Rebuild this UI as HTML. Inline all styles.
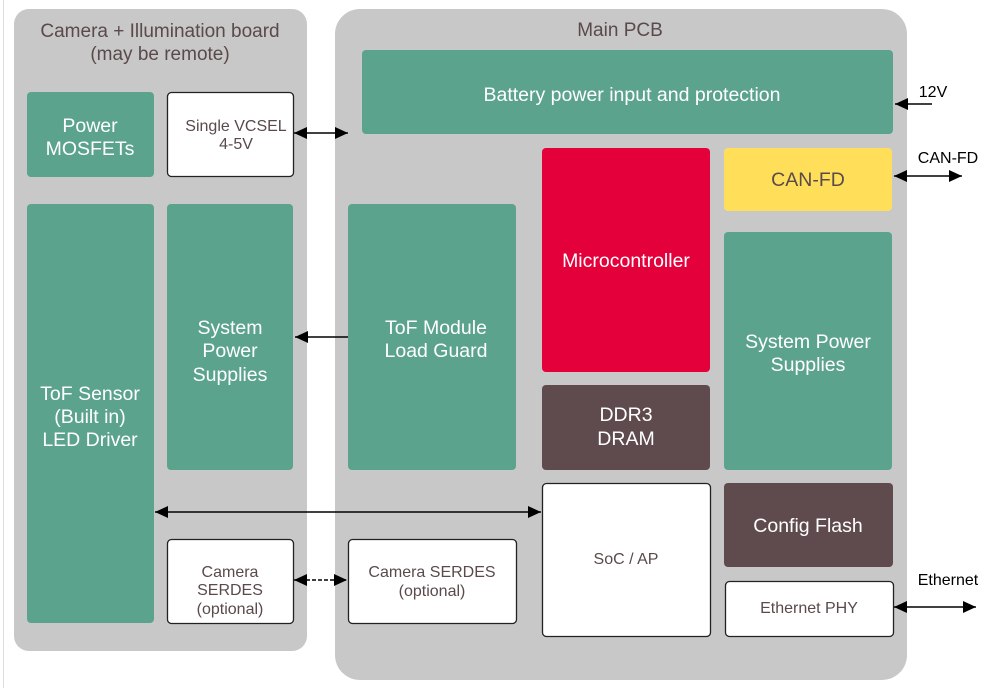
<!DOCTYPE html>
<html><head><style>body{margin:0;background:#fff}svg{display:block}text{font-family:"Liberation Sans",sans-serif}</style></head><body>
<svg width="1000" height="688" viewBox="0 0 1000 688">
<defs><marker id="a" markerWidth="14" markerHeight="14" refX="13" refY="6" orient="auto-start-reverse" markerUnits="userSpaceOnUse"><path d="M0,0L13,6L0,12z" fill="#000"/></marker></defs>
<line x1="3.5" y1="0" x2="3.5" y2="688" stroke="#ddd"/>
<rect x="14" y="9" width="293" height="642" rx="15" fill="#c8c8c8"/>
<rect x="335" y="9" width="572" height="671" rx="25" fill="#c8c8c8"/>
<g font-size="19" fill="#5a4a4a" text-anchor="middle">
<text x="160" y="37">Camera + Illumination board</text>
<text x="160" y="60">(may be remote)</text>
<text x="620" y="36">Main PCB</text></g>
<g fill="#5ca38e">
<rect x="362" y="50" width="531" height="84" rx="4"/>
<rect x="27" y="92" width="127" height="85" rx="4"/>
<rect x="27" y="204" width="127" height="419" rx="4"/>
<rect x="167" y="204" width="126" height="266" rx="4"/>
<rect x="348" y="204" width="168" height="266" rx="4"/>
<rect x="724" y="232" width="168" height="238" rx="4"/></g>
<rect x="542" y="148" width="168" height="224" rx="4" fill="#e4003a"/>
<rect x="542" y="385" width="168" height="85" rx="4" fill="#5f4b4e"/>
<rect x="724" y="483" width="169" height="84" rx="4" fill="#5f4b4e"/>
<rect x="724" y="148" width="168" height="63" rx="4" fill="#ffdf5a"/>
<g fill="#fff" stroke="#222" stroke-width="1.3">
<rect x="167.5" y="92.5" width="126" height="84" rx="4"/>
<rect x="542.5" y="483.5" width="168" height="153" rx="4"/>
<rect x="725.5" y="581.5" width="168" height="55" rx="4"/>
<rect x="167.5" y="539.5" width="126" height="84" rx="4"/>
<rect x="348.5" y="539.5" width="168" height="84" rx="4"/></g>
<g fill="#fff" font-size="19.5" text-anchor="middle">
<text x="632" y="101">Battery power input and protection</text>
<text x="90" y="132">Power</text><text x="90" y="155">MOSFETs</text>
<text x="90" y="400">ToF Sensor</text><text x="90" y="423">(Built in)</text><text x="90" y="446">LED Driver</text>
<text x="230" y="334">System</text><text x="230" y="357">Power</text><text x="230" y="381">Supplies</text>
<text x="436" y="334">ToF Module</text><text x="436" y="357">Load Guard</text>
<text x="626" y="267">Microcontroller</text>
<text x="626" y="421">DDR3</text><text x="626" y="445">DRAM</text>
<text x="808" y="348">System Power</text><text x="808" y="371">Supplies</text>
<text x="808" y="532">Config Flash</text></g>
<text x="808" y="186" font-size="19.5" fill="#5a4a4a" text-anchor="middle">CAN-FD</text>
<g fill="#5a4a4a" font-size="16" text-anchor="middle">
<text x="236" y="131">Single VCSEL</text><text x="236" y="149">4-5V</text>
<text x="626" y="564">SoC / AP</text>
<text x="809" y="613">Ethernet PHY</text>
<text x="230" y="577">Camera</text><text x="230" y="595">SERDES</text><text x="230" y="614">(optional)</text>
<text x="432" y="577">Camera SERDES</text><text x="432" y="596">(optional)</text></g>
<g fill="#000" font-size="16" text-anchor="middle">
<text x="933" y="97">12V</text><text x="948" y="163">CAN-FD</text><text x="948" y="585">Ethernet</text></g>
<g stroke="#000" stroke-width="1.5" fill="none">
<line x1="294" y1="133" x2="348" y2="133" marker-start="url(#a)" marker-end="url(#a)"/>
<line x1="348" y1="337" x2="295" y2="337" marker-end="url(#a)"/>
<line x1="155" y1="512" x2="541" y2="512" marker-start="url(#a)" marker-end="url(#a)"/>
<line x1="294" y1="580" x2="347" y2="580" stroke-dasharray="4,2" marker-start="url(#a)" marker-end="url(#a)"/>
<line x1="932" y1="104" x2="895" y2="104" marker-end="url(#a)"/>
<line x1="894" y1="176" x2="962" y2="176" marker-start="url(#a)" marker-end="url(#a)"/>
<line x1="894" y1="607" x2="976" y2="607" marker-start="url(#a)" marker-end="url(#a)"/>
</g>
</svg>
</body></html>
